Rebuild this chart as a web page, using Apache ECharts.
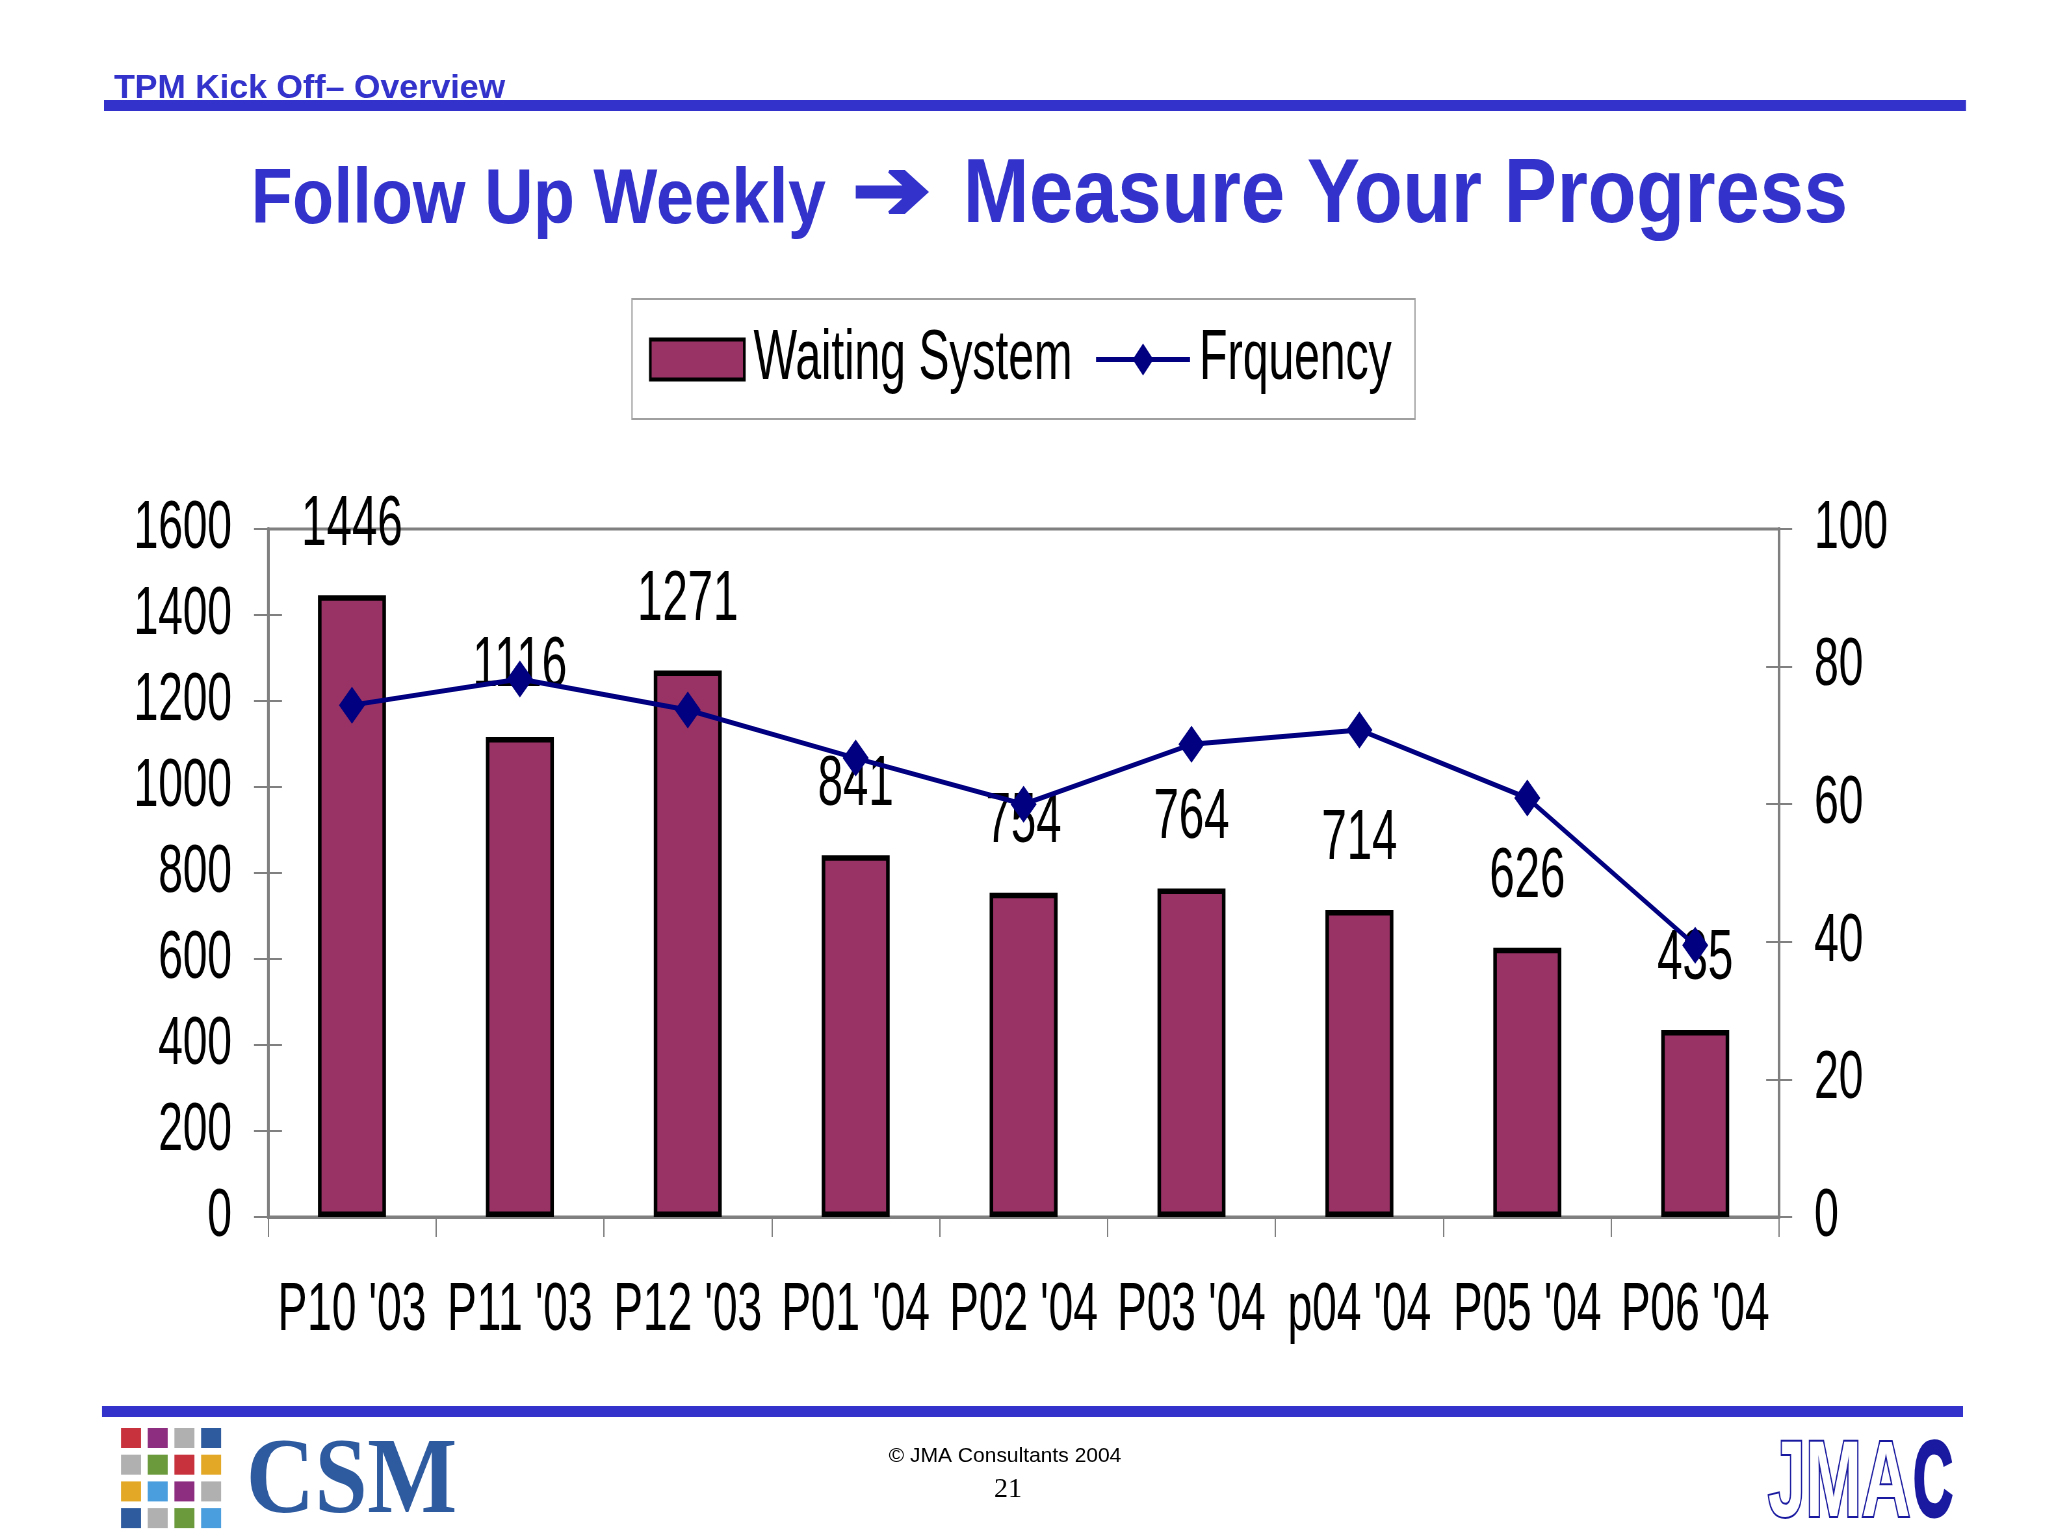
<!DOCTYPE html>
<html>
<head>
<meta charset="utf-8">
<script src="https://cdn.jsdelivr.net/npm/echarts@6/dist/echarts.min.js"></script>
<style>
  html, body { margin: 0; padding: 0; background: #fff; overflow: hidden; }
  /* the slide's chart text is a squeezed Arial; draw wide and squeeze the whole canvas */
  #chart { width: 3151px; height: 1536px; transform: scaleX(0.65); transform-origin: 0 0; }
</style>
</head>
<body>
<div id="chart"></div>
<script>
// chart data
const categories = ["P10 '03", "P11 '03", "P12 '03", "P01 '04", "P02 '04", "P03 '04", "p04 '04", "P05 '04", "P06 '04"];
const waitingSystem = [1446, 1116, 1271, 841, 754, 764, 714, 626, 435];
const frequency = [74.4, 78.2, 73.7, 66.7, 60.0, 68.7, 70.8, 60.9, 39.5];
const leftAxisRange = [0, 1600, 200];
const rightAxisRange = [0, 100, 20];

// CSM logo tile colours, row by row
const csmTiles = [
  ["#c8323c", "#8e2e80", "#b0b0b0", "#2d5b9e"],
  ["#b0b0b0", "#6a9a3c", "#c8323c", "#e2a826"],
  ["#e2a826", "#4a9ede", "#8e2e80", "#b0b0b0"],
  ["#2d5b9e", "#b0b0b0", "#6a9a3c", "#4a9ede"]
];

const SX = 0.65;               // horizontal squeeze applied by css
const X = x => x / SX;         // screen x -> chart x
const UN = 1 / SX;             // undo the squeeze for plain text

const SANS = "'Liberation Sans', Arial, sans-serif";
const SERIF = "'Liberation Serif', 'Times New Roman', serif";
const BLUE = "#3333cc";
const GREY = "#808080";

const chart = echarts.init(document.getElementById("chart"), null, { renderer: "canvas" });

// slide decoration: header, title, footer and logos
const graphics = [
  { type: "text", x: X(114), y: 89, scaleX: UN, style: { text: "TPM Kick Off\u2013 Overview", fill: BLUE, font: "bold 34px " + SANS, verticalAlign: "middle" } },
  { type: "rect", shape: { x: X(104), y: 100, width: X(1862), height: 11 }, style: { fill: BLUE } },
  { type: "text", x: X(251), y: 202, scaleX: 0.88 * UN, style: { text: "Follow Up Weekly", fill: BLUE, font: "bold 77px " + SANS, verticalAlign: "middle" } },
  { type: "text", x: X(852), y: 197, scaleX: 1.1 * UN, style: { text: "\u2794", fill: BLUE, stroke: BLUE, lineWidth: 3, font: "bold 86px 'DejaVu Sans', sans-serif", verticalAlign: "middle" } },
  { type: "text", x: X(963), y: 197, scaleX: 0.872 * UN, style: { text: "Measure Your Progress", fill: BLUE, font: "bold 91px " + SANS, verticalAlign: "middle" } },
  { type: "rect", shape: { x: X(632), y: 299, width: X(783), height: 120 }, style: { fill: "#fff", stroke: "#a0a0a0", lineWidth: 2 }, z: -1 },
  { type: "rect", shape: { x: X(102), y: 1406, width: X(1861), height: 11 }, style: { fill: BLUE } },
  { type: "text", x: X(1005), y: 1456, scaleX: UN, style: { text: "\u00a9 JMA Consultants 2004", fill: "#000", font: "21px " + SANS, align: "center", verticalAlign: "middle" } },
  { type: "text", x: X(1008), y: 1490, scaleX: UN, style: { text: "21", fill: "#000", font: "28px " + SERIF, align: "center", verticalAlign: "middle" } },
  { type: "text", x: X(246), y: 1484, scaleX: 0.88 * UN, style: { text: "CSM", fill: "#2e5ba0", font: "bold 108px " + SERIF, verticalAlign: "middle" } },
  { type: "text", x: X(1768), y: 1486, scaleX: 0.63 * UN, style: { text: "JMA", fill: "#fff", stroke: "#1a1aa0", lineWidth: 4, font: "bold 107px " + SANS, verticalAlign: "middle" } },
  { type: "text", x: X(1913), y: 1486, scaleX: 0.52 * UN, style: { text: "C", fill: "#1a1aa0", stroke: "#1a1aa0", lineWidth: 3, font: "bold 107px " + SANS, verticalAlign: "middle" } }
];
csmTiles.forEach((row, r) => {
  row.forEach((c, k) => {
    graphics.push({ type: "rect", shape: { x: X(121 + k * 26.7), y: 1428 + r * 26.7, width: X(20), height: 20 }, style: { fill: c } });
  });
});

const tickStyle = { color: GREY, width: 2 };

const option = {
  animation: false,
  backgroundColor: "#fff",
  textStyle: { fontFamily: SANS },
  graphic: graphics,
  legend: {
    left: X(649),
    top: 324,
    padding: 0,
    itemGap: X(22),
    itemWidth: X(94),
    itemHeight: 40,
    textStyle: { fontSize: 71, color: "#000", fontFamily: SANS, padding: [0, 0, 0, X(6)] },
    data: [
      { name: "Waiting System", icon: "rect", itemStyle: { borderColor: "#000", borderWidth: 4 } },
      { name: "Frquency", lineStyle: { width: 5 } }
    ]
  },
  grid: {
    left: X(268),
    right: X(269),
    top: 529,
    bottom: 319,
    show: true,
    borderColor: GREY,
    borderWidth: 3,
    backgroundColor: "#fff"
  },
  xAxis: {
    type: "category",
    data: categories,
    axisLine: { lineStyle: { color: GREY, width: 3 } },
    axisTick: { show: true, length: 20, lineStyle: tickStyle },
    axisLabel: { interval: 0, fontSize: 68, color: "#000", margin: 60, fontFamily: SANS }
  },
  yAxis: [
    {
      type: "value", position: "left",
      min: leftAxisRange[0], max: leftAxisRange[1], interval: leftAxisRange[2],
      axisLine: { show: true, lineStyle: { color: GREY, width: 4 } },
      axisTick: { show: true, length: X(14), lineStyle: tickStyle },
      axisLabel: { fontSize: 68, color: "#000", margin: X(36), fontFamily: SANS, formatter: v => String(v) },
      splitLine: { show: false }
    },
    {
      type: "value", position: "right",
      min: rightAxisRange[0], max: rightAxisRange[1], interval: rightAxisRange[2],
      axisLine: { show: true, lineStyle: { color: GREY, width: 4 } },
      axisTick: { show: true, length: X(13), lineStyle: tickStyle },
      axisLabel: { fontSize: 68, color: "#000", margin: X(35), fontFamily: SANS },
      splitLine: { show: false }
    },
    // inner halves of the crossing tick marks
    {
      type: "value", position: "left",
      min: leftAxisRange[0], max: leftAxisRange[1], interval: leftAxisRange[2],
      axisLine: { show: false },
      axisTick: { show: true, inside: true, length: X(14), lineStyle: tickStyle },
      axisLabel: { show: false },
      splitLine: { show: false }
    },
    {
      type: "value", position: "right",
      min: rightAxisRange[0], max: rightAxisRange[1], interval: rightAxisRange[2],
      axisLine: { show: false },
      axisTick: { show: true, inside: true, length: X(13), lineStyle: tickStyle },
      axisLabel: { show: false },
      splitLine: { show: false }
    }
  ],
  series: [
    {
      name: "Waiting System",
      type: "bar",
      yAxisIndex: 0,
      data: waitingSystem,
      barWidth: X(68),
      itemStyle: { color: "#993366", borderColor: "#000", borderWidth: 5.5 },
      label: { show: true, position: "top", distance: 35, fontSize: 70, color: "#000", fontFamily: SANS },
      z: 2
    },
    {
      name: "Frquency",
      type: "line",
      yAxisIndex: 1,
      data: frequency,
      symbol: "diamond",
      symbolSize: [X(26), 37],
      lineStyle: { color: "#000080", width: 5 },
      itemStyle: { color: "#000080" },
      z: 5
    }
  ]
};

chart.setOption(option);
</script>
</body>
</html>
